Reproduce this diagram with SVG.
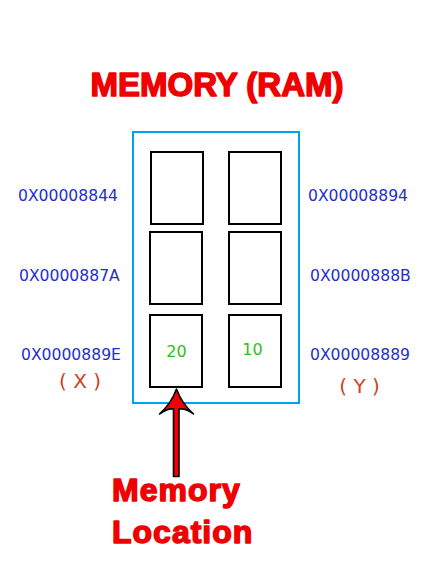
<svg xmlns="http://www.w3.org/2000/svg" width="432" height="576" viewBox="0 0 432 576">
<style>
.title{font-family:"Liberation Sans",Arial,sans-serif;font-weight:bold;fill:#f00000;stroke:#f00000;stroke-width:1.5;stroke-linejoin:round}
.addr{font-family:"DejaVu Sans",Verdana,sans-serif;font-size:15.6px;fill:#1f2fcc}
.var{font-family:"DejaVu Sans",Verdana,sans-serif;font-size:20px;fill:#cc4422}
.val{font-family:"DejaVu Sans",Verdana,sans-serif;font-size:16px;fill:#33bb22}
.cell{fill:#fff;stroke:#000;stroke-width:2}
</style>
<rect width="432" height="576" fill="#fff"/>
<text class="title" x="217" y="96" font-size="33" text-anchor="middle">MEMORY (RAM)</text>
<g id="memory">
<rect x="133" y="132" width="166" height="271" fill="none" stroke="#00a2e8" stroke-width="2"/>
</g>
<g id="cell-8844"><rect class="cell" x="151" y="152" width="52" height="72"/><text class="addr" x="18" y="200.5">0X00008844</text></g>
<g id="cell-8894"><rect class="cell" x="229" y="152" width="52" height="72"/><text class="addr" x="308" y="200.5">0X00008894</text></g>
<g id="cell-887A"><rect class="cell" x="150" y="232" width="52" height="72"/><text class="addr" x="19" y="281">0X0000887A</text></g>
<g id="cell-888B"><rect class="cell" x="229" y="232" width="52" height="72"/><text class="addr" x="310" y="281">0X0000888B</text></g>
<g id="cell-889E"><rect class="cell" x="150" y="315" width="52" height="72"/><text class="val" x="176.5" y="357" text-anchor="middle">20</text><text class="addr" x="21" y="360">0X0000889E</text><text class="var" x="80" y="388" text-anchor="middle">( X )</text></g>
<g id="cell-8889"><rect class="cell" x="229" y="315" width="52" height="72"/><text class="val" x="252.5" y="355" text-anchor="middle">10</text><text class="addr" x="310" y="360">0X00008889</text><text class="var" x="359.5" y="393" text-anchor="middle">( Y )</text></g>
<g id="connectors">
<path d="M176.5,389 Q171,404 159.5,414 Q168,408 173.5,409 L173.5,476.5 L179,476.5 L179,409 Q186,408 193.5,414 Q182,404 176.5,389 Z" fill="#f00000" stroke="#000" stroke-width="1.6" stroke-linejoin="round"/>
</g>
<g id="label">
<text class="title" x="112" y="500.5" font-size="32" letter-spacing="1">Memory</text>
<text class="title" x="112" y="543" font-size="32" letter-spacing="1">Location</text>
</g>
</svg>
